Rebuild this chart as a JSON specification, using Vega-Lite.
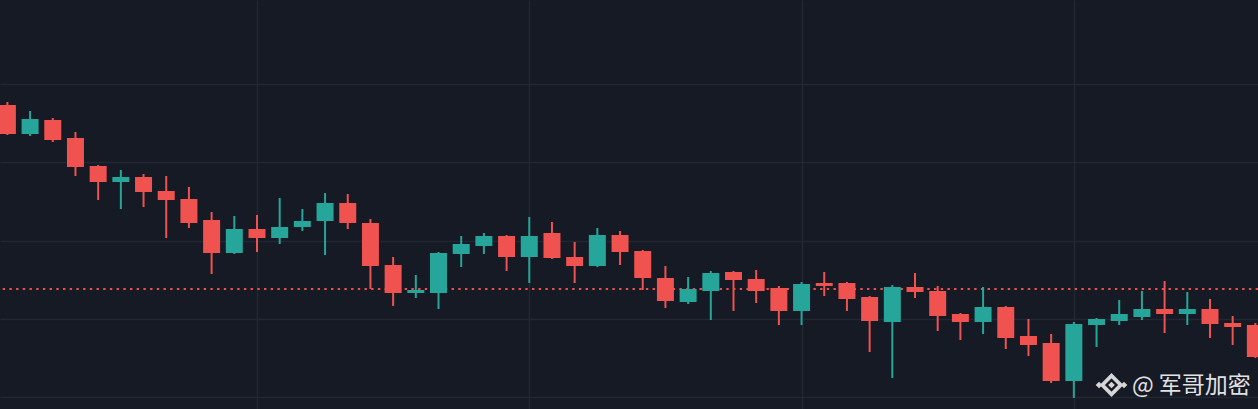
{
  "$schema": "https://vega.github.io/schema/vega-lite/v6.json",
  "width": 1258,
  "height": 409,
  "autosize": {"type": "fit", "contains": "padding"},
  "padding": 0,
  "background": "#161a25",
  "config": {
    "view": {"stroke": null},
    "scale": {"continuousPadding": 0},
    "axis": {"grid": true, "labels": false, "ticks": false, "domain": false, "title": null, "gridColor": "#222733", "gridWidth": 1.5, "minExtent": 0, "maxExtent": 0}
  },
  "datasets": {
    "candles": [
      {"i":0,"o":49.5,"h":49.8,"l":46.5,"c":46.6},
      {"i":1,"o":46.6,"h":48.9,"l":46.4,"c":48.1},
      {"i":2,"o":48.0,"h":48.2,"l":45.8,"c":46.0},
      {"i":3,"o":46.2,"h":46.8,"l":42.4,"c":43.3},
      {"i":4,"o":43.4,"h":43.5,"l":40.0,"c":41.8},
      {"i":5,"o":41.8,"h":43.0,"l":39.1,"c":42.3},
      {"i":6,"o":42.3,"h":42.6,"l":39.3,"c":40.8},
      {"i":7,"o":40.9,"h":42.4,"l":36.2,"c":40.0},
      {"i":8,"o":40.1,"h":41.3,"l":37.2,"c":37.7},
      {"i":9,"o":38.0,"h":38.8,"l":32.6,"c":34.7},
      {"i":10,"o":34.7,"h":38.4,"l":34.6,"c":37.1},
      {"i":11,"o":37.1,"h":38.5,"l":34.8,"c":36.2},
      {"i":12,"o":36.2,"h":40.2,"l":35.6,"c":37.3},
      {"i":13,"o":37.3,"h":39.1,"l":36.9,"c":37.9},
      {"i":14,"o":37.9,"h":40.7,"l":34.5,"c":39.7},
      {"i":15,"o":39.7,"h":40.6,"l":37.1,"c":37.7},
      {"i":16,"o":37.7,"h":38.1,"l":31.1,"c":33.4},
      {"i":17,"o":33.5,"h":34.3,"l":29.4,"c":30.7},
      {"i":18,"o":30.7,"h":32.5,"l":30.2,"c":31.0},
      {"i":19,"o":30.7,"h":34.8,"l":29.1,"c":34.7},
      {"i":20,"o":34.6,"h":36.4,"l":33.3,"c":35.6},
      {"i":21,"o":35.4,"h":36.7,"l":34.6,"c":36.4},
      {"i":22,"o":36.4,"h":36.5,"l":32.9,"c":34.3},
      {"i":23,"o":34.3,"h":38.3,"l":31.7,"c":36.4},
      {"i":24,"o":36.7,"h":37.8,"l":34.1,"c":34.2},
      {"i":25,"o":34.3,"h":35.8,"l":31.7,"c":33.4},
      {"i":26,"o":33.4,"h":37.2,"l":33.3,"c":36.5},
      {"i":27,"o":36.5,"h":36.9,"l":33.5,"c":34.8},
      {"i":28,"o":34.9,"h":35.0,"l":31.0,"c":32.2},
      {"i":29,"o":32.2,"h":33.4,"l":29.2,"c":29.9},
      {"i":30,"o":29.8,"h":32.3,"l":29.6,"c":31.1},
      {"i":31,"o":30.9,"h":32.9,"l":28.0,"c":32.7},
      {"i":32,"o":32.8,"h":32.9,"l":28.9,"c":32.0},
      {"i":33,"o":32.1,"h":33.0,"l":29.7,"c":30.9},
      {"i":34,"o":31.2,"h":31.4,"l":27.5,"c":28.9},
      {"i":35,"o":28.9,"h":31.8,"l":27.5,"c":31.6},
      {"i":36,"o":31.7,"h":32.8,"l":30.4,"c":31.4},
      {"i":37,"o":31.7,"h":31.8,"l":28.9,"c":30.1},
      {"i":38,"o":30.3,"h":30.4,"l":24.8,"c":27.9},
      {"i":39,"o":27.8,"h":31.5,"l":22.2,"c":31.3},
      {"i":40,"o":31.3,"h":32.7,"l":30.2,"c":30.8},
      {"i":41,"o":30.9,"h":31.4,"l":26.9,"c":28.4},
      {"i":42,"o":28.6,"h":28.7,"l":26.0,"c":27.8},
      {"i":43,"o":27.8,"h":31.3,"l":26.6,"c":29.3},
      {"i":44,"o":29.3,"h":29.4,"l":25.1,"c":26.2},
      {"i":45,"o":26.4,"h":28.1,"l":24.4,"c":25.5},
      {"i":46,"o":25.7,"h":26.6,"l":21.7,"c":21.9},
      {"i":47,"o":21.9,"h":27.8,"l":20.2,"c":27.6},
      {"i":48,"o":27.5,"h":28.2,"l":25.3,"c":28.1},
      {"i":49,"o":27.9,"h":30.0,"l":27.5,"c":28.6},
      {"i":50,"o":28.3,"h":30.9,"l":28.0,"c":29.1},
      {"i":51,"o":29.1,"h":31.9,"l":26.7,"c":28.6},
      {"i":52,"o":28.6,"h":30.8,"l":27.5,"c":29.1},
      {"i":53,"o":29.1,"h":30.1,"l":26.2,"c":27.6},
      {"i":54,"o":27.7,"h":28.4,"l":25.5,"c":27.3},
      {"i":55,"o":27.5,"h":27.7,"l":24.2,"c":24.3}
    ],
    "level": [{"price": 31.1}],
    "mark": [{"label": "@ 军哥加密", "i": 54.8, "p": 21.45}],
    "logo": [{"i": 48.66, "p": 21.5}],
    "logoDots": [{"i": 48.11, "p": 21.5}, {"i": 48.66, "p": 21.5}, {"i": 49.21, "p": 21.5}]
  },
  "layer": [
    {
      "data": {"name": "level"},
      "mark": {"type": "rule", "color": "#e8524e", "strokeWidth": 2.2, "strokeDash": [2.4, 4.3], "clip": true},
      "encoding": {
        "y": {"field": "price", "type": "quantitative", "scale": {"domain": [19.1, 60], "nice": false, "zero": false, "padding": 0}, "axis": {"values": [20.3, 28.1, 35.9, 43.8, 51.65]}}
      }
    },
    {
      "data": {"name": "candles"},
      "mark": {"type": "rule", "strokeWidth": 2, "clip": true},
      "encoding": {
        "x": {"field": "i", "type": "quantitative", "scale": {"domain": [-0.326, 55.116], "nice": false, "zero": false, "padding": 0}, "axis": {"values": [11, 23, 35, 47]}},
        "y": {"field": "l", "type": "quantitative", "scale": {"domain": [19.1, 60], "nice": false, "zero": false, "padding": 0}},
        "y2": {"field": "h"},
        "color": {"condition": {"test": "datum.c >= datum.o", "value": "#26a69a"}, "value": "#f0524f"}
      }
    },
    {
      "data": {"name": "candles"},
      "mark": {"type": "bar", "width": 17, "clip": true},
      "encoding": {
        "x": {"field": "i", "type": "quantitative", "scale": {"domain": [-0.326, 55.116], "nice": false, "zero": false, "padding": 0}},
        "y": {"field": "o", "type": "quantitative", "scale": {"domain": [19.1, 60], "nice": false, "zero": false, "padding": 0}},
        "y2": {"field": "c"},
        "color": {"condition": {"test": "datum.c >= datum.o", "value": "#26a69a"}, "value": "#f0524f"}
      }
    },
    {
      "data": {"name": "logo"},
      "mark": {"type": "point", "shape": "diamond", "filled": false, "size": 340, "strokeWidth": 3.8, "color": "#d6d6d6", "opacity": 1},
      "encoding": {
        "x": {"field": "i", "type": "quantitative", "scale": {"domain": [-0.326, 55.116], "nice": false, "zero": false, "padding": 0}},
        "y": {"field": "p", "type": "quantitative", "scale": {"domain": [19.1, 60], "nice": false, "zero": false, "padding": 0}}
      }
    },
    {
      "data": {"name": "logoDots"},
      "mark": {"type": "point", "shape": "diamond", "filled": true, "size": 45, "color": "#d6d6d6", "opacity": 1},
      "encoding": {
        "x": {"field": "i", "type": "quantitative", "scale": {"domain": [-0.326, 55.116], "nice": false, "zero": false, "padding": 0}},
        "y": {"field": "p", "type": "quantitative", "scale": {"domain": [19.1, 60], "nice": false, "zero": false, "padding": 0}}
      }
    },
    {
      "data": {"name": "mark"},
      "mark": {"type": "text", "align": "right", "baseline": "middle", "font": "Noto Sans CJK SC", "fontSize": 23, "color": "#e2e2e2"},
      "encoding": {
        "x": {"field": "i", "type": "quantitative", "scale": {"domain": [-0.326, 55.116], "nice": false, "zero": false, "padding": 0}},
        "y": {"field": "p", "type": "quantitative", "scale": {"domain": [19.1, 60], "nice": false, "zero": false, "padding": 0}},
        "text": {"field": "label"}
      }
    }
  ]
}
